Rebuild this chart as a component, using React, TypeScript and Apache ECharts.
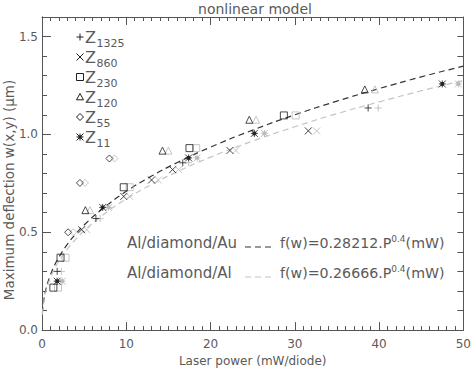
import React, { useEffect, useRef } from "react";
import * as echarts from "echarts";

// Fitted curves
const P_FIT = [0.05, 0.1, 0.2, 0.5, 1, 1.5, 2, 3, 4, 5, 7, 10, 13, 16, 20, 25, 30, 35, 40, 45, 50];
const FIT_AU = [0.085, 0.112, 0.148, 0.214, 0.282, 0.332, 0.372, 0.438, 0.491, 0.537, 0.614, 0.709, 0.787, 0.855, 0.935, 1.022, 1.1, 1.17, 1.234, 1.294, 1.349];
const FIT_AL = [0.08, 0.106, 0.14, 0.202, 0.267, 0.314, 0.352, 0.414, 0.464, 0.508, 0.581, 0.67, 0.744, 0.808, 0.884, 0.966, 1.039, 1.106, 1.166, 1.223, 1.275];

// Measured points, Al/diamond/Au (black)
const Z1325_AU = [[1.8, 0.3], [6.4, 0.57], [16.7, 0.855], [38.7, 1.135]];
const Z860_AU = [[4.7, 0.513], [9.7, 0.683], [13.0, 0.767], [15.5, 0.82], [22.3, 0.918], [31.6, 1.018]];
const Z230_AU = [[1.35, 0.217], [2.2, 0.37], [9.7, 0.73], [17.5, 0.93], [28.7, 1.097]];
const Z120_AU = [[5.15, 0.613], [14.3, 0.917], [24.6, 1.075], [38.3, 1.23]];
const Z55_AU = [[3.1, 0.5], [4.5, 0.752], [8.0, 0.877]];
const Z11_AU = [[1.8, 0.25], [7.2, 0.627], [17.4, 0.88], [25.2, 1.005], [47.5, 1.258]];

// Measured points, Al/diamond/Al (gray)
const Z1325_AL = [[2.3, 0.3], [6.9, 0.57], [17.4, 0.855], [39.9, 1.135]];
const Z860_AL = [[5.3, 0.513], [10.4, 0.683], [13.8, 0.767], [16.2, 0.82], [23.0, 0.918], [32.6, 1.018]];
const Z230_AL = [[1.9, 0.217], [2.8, 0.37], [10.4, 0.73], [18.3, 0.93], [30.1, 1.097]];
const Z120_AL = [[5.7, 0.613], [15.0, 0.917], [25.4, 1.075], [39.5, 1.23]];
const Z55_AL = [[3.7, 0.5], [5.1, 0.752], [8.6, 0.877]];
const Z11_AL = [[2.4, 0.25], [7.9, 0.627], [18.4, 0.88], [26.4, 1.005], [49.4, 1.258]];

const GROUPS = [
  { sub: "1325", sym: "plus", au: Z1325_AU, al: Z1325_AL },
  { sub: "860", sym: "cross", au: Z860_AU, al: Z860_AL },
  { sub: "230", sym: "square", au: Z230_AU, al: Z230_AL },
  { sub: "120", sym: "triangle", au: Z120_AU, al: Z120_AL },
  { sub: "55", sym: "diamond", au: Z55_AU, al: Z55_AL },
  { sub: "11", sym: "star", au: Z11_AU, al: Z11_AL },
];

const TITLE = "nonlinear model";
const X_NAME = "Laser power (mW/diode)";
const Y_NAME = "Maximum deflection w(x,y) (\u03bcm)";
const LABEL_AU = "Al/diamond/Au";
const LABEL_AL = "Al/diamond/Al";
const COEF_AU = "0.28212";
const COEF_AL = "0.26666";

const FONT = "DejaVu Sans";
const TXT = "#5a5a5a";
const AXIS = "#555";
const BLACK = "#1e1e1e";
const GRAY = "#b8b8b8";

const SYM_PATH: Record<string, string> = {
  plus: "path://M5,0L5,10M0,5L10,5",
  cross: "path://M0,0L10,10M10,0L0,10",
  square: "path://M0,0L10,0L10,10L0,10Z",
  triangle: "path://M5,0L10,9L0,9Z",
  diamond: "path://M5,0L10,5L5,10L0,5Z",
  star: "path://M0,0L10,10M10,0L0,10M5,0L5,10M0,5L10,5M3,3L7,3L7,7L3,7Z",
};

function legendSymbol(sym: string, cx: number, cy: number, color: string) {
  const h = 3.5;
  const st = { stroke: color, lineWidth: 1, fill: "none" };
  const ln = (x1: number, y1: number, x2: number, y2: number) => ({
    type: "line",
    shape: { x1, y1, x2, y2 },
    style: { stroke: color, lineWidth: 1 },
  });
  switch (sym) {
    case "plus":
      return [ln(cx - h, cy, cx + h, cy), ln(cx, cy - h, cx, cy + h)];
    case "cross":
      return [ln(cx - h, cy - h, cx + h, cy + h), ln(cx - h, cy + h, cx + h, cy - h)];
    case "square":
      return [{ type: "rect", shape: { x: cx - h, y: cy - h, width: 2 * h, height: 2 * h }, style: st }];
    case "triangle":
      return [{ type: "polygon", shape: { points: [[cx, cy - h], [cx + h, cy + h * 0.8], [cx - h, cy + h * 0.8]] }, style: st }];
    case "diamond":
      return [{ type: "polygon", shape: { points: [[cx, cy - h], [cx + h, cy], [cx, cy + h], [cx - h, cy]] }, style: st }];
    default:
      return [
        ln(cx - h, cy - h, cx + h, cy + h),
        ln(cx - h, cy + h, cx + h, cy - h),
        ln(cx, cy - h, cx, cy + h),
        ln(cx - h, cy, cx + h, cy),
        { type: "rect", shape: { x: cx - 1.5, y: cy - 1.5, width: 3, height: 3 }, style: { fill: color } },
      ];
  }
}

export default function App() {
  const ref = useRef<HTMLDivElement>(null);

  useEffect(() => {
    if (!ref.current) return;
    const chart = echarts.init(ref.current, null, { renderer: "svg" });

    const scatter = (name: string, data: number[][], sym: string, color: string, z: number) => ({
      name,
      type: "scatter",
      data,
      symbol: SYM_PATH[sym],
      symbolSize: 7,
      z,
      itemStyle: {
        color: sym === "star" ? color : "transparent",
        borderColor: color,
        borderWidth: 1,
      },
      emphasis: { disabled: true },
    });

    const series: any[] = [
      {
        name: "fit " + LABEL_AU,
        type: "line",
        data: P_FIT.map((p, i) => [p, FIT_AU[i]]),
        showSymbol: false,
        smooth: true,
        z: 2,
        lineStyle: { color: "#333", width: 1.2, type: [6, 4] },
      },
      {
        name: "fit " + LABEL_AL,
        type: "line",
        data: P_FIT.map((p, i) => [p, FIT_AL[i]]),
        showSymbol: false,
        smooth: true,
        z: 2,
        lineStyle: { color: "#c4c4c4", width: 1.2, type: [6, 4] },
      },
    ];
    GROUPS.forEach((g) => series.push(scatter("Z" + g.sub + " " + LABEL_AL, g.al, g.sym, GRAY, 3)));
    GROUPS.forEach((g) => series.push(scatter("Z" + g.sub + " " + LABEL_AU, g.au, g.sym, BLACK, 4)));

    const graphic: any[] = [];
    graphic.push({
      type: "text",
      x: 255,
      y: 9,
      style: { text: TITLE, fontFamily: FONT, fontSize: 14, fill: TXT, align: "center", verticalAlign: "middle" },
    });
    graphic.push({
      type: "text",
      x: 9,
      y: 190,
      rotation: Math.PI / 2,
      style: { text: Y_NAME, fontFamily: FONT, fontSize: 13.5, fill: TXT, align: "center", verticalAlign: "middle" },
    });
    GROUPS.forEach((g, i) => {
      const cy = 37 + i * 20;
      legendSymbol(g.sym, 80, cy, BLACK).forEach((el) => graphic.push(el));
      graphic.push({
        type: "text",
        x: 85,
        y: cy,
        style: { text: "Z", fontFamily: FONT, fontSize: 16, fill: TXT, align: "left", verticalAlign: "middle" },
      });
      graphic.push({
        type: "text",
        x: 96.5,
        y: cy + 6,
        style: { text: g.sub, fontFamily: FONT, fontSize: 11, fill: TXT, align: "left", verticalAlign: "middle" },
      });
    });
    const fitRows = [
      { label: LABEL_AU, coef: COEF_AU, color: "#333", y: 243 },
      { label: LABEL_AL, coef: COEF_AL, color: "#c4c4c4", y: 273 },
    ];
    fitRows.forEach((r) => {
      graphic.push({
        type: "text",
        x: 127,
        y: r.y,
        style: { text: r.label, fontFamily: FONT, fontSize: 15, fill: TXT, align: "left", verticalAlign: "middle" },
      });
      graphic.push({
        type: "line",
        shape: { x1: 245, y1: r.y + 4, x2: 273, y2: r.y + 4 },
        style: { stroke: r.color, lineWidth: 1.2, lineDash: [6, 4] },
      });
      graphic.push({
        type: "text",
        x: 280,
        y: r.y,
        style: {
          text: "{a|f(w)=" + r.coef + ".P}{s|0.4}{a|(mW)}",
          fontFamily: FONT,
          fill: TXT,
          align: "left",
          verticalAlign: "middle",
          rich: {
            a: { fontFamily: FONT, fontSize: 14.2, lineHeight: 18, fill: TXT, verticalAlign: "middle" },
            s: { fontFamily: FONT, fontSize: 9, lineHeight: 10, fill: TXT, verticalAlign: "top" },
          },
        },
      });
    });

    const xBase = {
      type: "value",
      min: 0,
      max: 50,
      interval: 10,
      axisLine: { show: true, onZero: false, lineStyle: { color: AXIS, width: 1 } },
      axisTick: { show: true, inside: true, length: 8, lineStyle: { color: AXIS } },
      minorTick: { show: true, splitNumber: 10, length: 4, lineStyle: { color: AXIS } },
      splitLine: { show: false },
      minorSplitLine: { show: false },
    };
    const yBase = {
      type: "value",
      min: 0,
      max: 1.6,
      axisLine: { show: true, onZero: false, lineStyle: { color: AXIS, width: 1 } },
      splitLine: { show: false },
    };

    chart.setOption({
      animation: false,
      backgroundColor: "#fff",
      grid: { left: 42, right: 6, top: 17, bottom: 36, containLabel: false },
      xAxis: [
        {
          ...xBase,
          position: "bottom",
          name: X_NAME,
          nameLocation: "middle",
          nameGap: 20,
          nameTextStyle: { fontFamily: FONT, fontSize: 12, color: TXT },
          axisLabel: { show: true, margin: 8, fontFamily: FONT, fontSize: 12, color: TXT },
        },
        { ...xBase, position: "top", axisLabel: { show: false } },
      ],
      yAxis: [
        {
          ...yBase,
          position: "left",
          interval: 0.1,
          axisTick: { show: true, inside: true, length: 5, lineStyle: { color: AXIS } },
          axisLabel: {
            show: true,
            margin: 4,
            fontFamily: FONT,
            fontSize: 12,
            color: TXT,
            formatter: (v: number) => {
              const r = Math.round(v * 10);
              return r % 5 === 0 && r <= 15 ? (r / 10).toFixed(1) : "";
            },
          },
        },
        {
          ...yBase,
          position: "left",
          interval: 0.5,
          axisTick: { show: true, inside: true, length: 9, lineStyle: { color: AXIS } },
          axisLabel: { show: false },
        },
        {
          ...yBase,
          position: "right",
          interval: 0.1,
          axisTick: { show: true, inside: true, length: 6, lineStyle: { color: AXIS } },
          axisLabel: { show: false },
        },
      ],
      graphic,
      series,
    });

    return () => chart.dispose();
  }, []);

  return (
    <div
      ref={ref}
      style={{ position: "fixed", left: 0, top: 0, width: 474, height: 372, background: "#fff" }}
    />
  );
}
